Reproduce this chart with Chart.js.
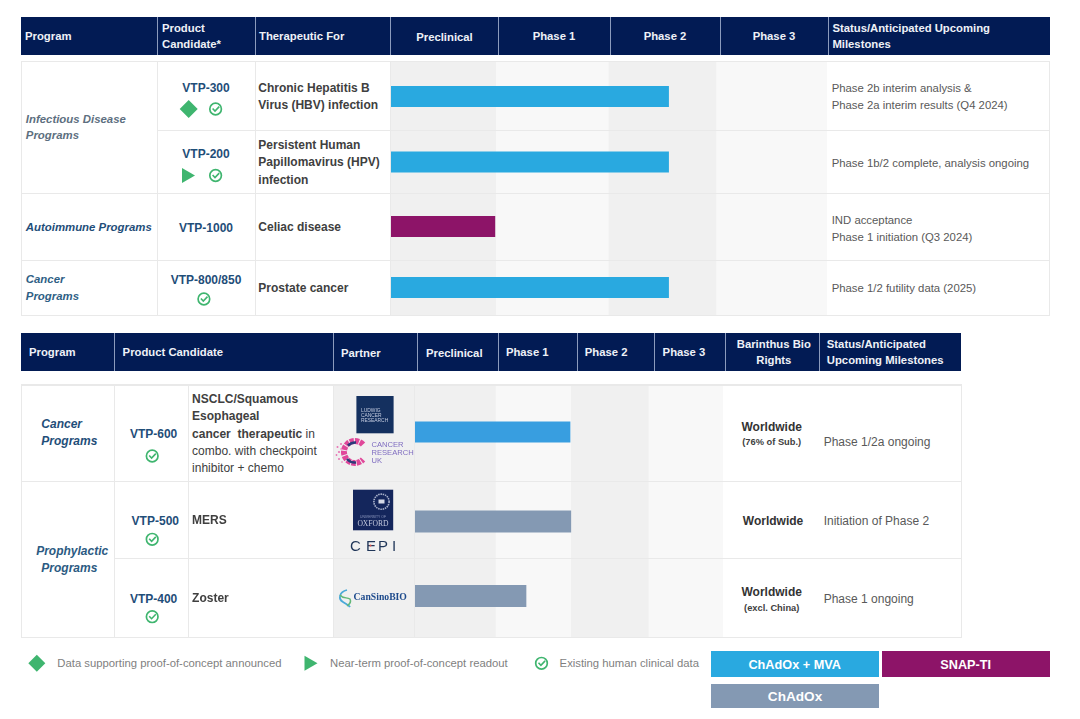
<!DOCTYPE html>
<html lang="en">
<head>
<meta charset="UTF-8">
<title>Pipeline</title>
<script src="https://cdn.jsdelivr.net/npm/chart.js"></script>
<style>
  html, body { margin: 0; background: #fff; }
  #page { position: relative; width: 1080px; height: 719px; overflow: hidden; font-family: "Liberation Sans", Arial, sans-serif; }
  #page div { position: absolute; }
  #page canvas { position: absolute; display: block; }
  .t { transform: translateY(-50%); white-space: nowrap; }
  .c { transform: translate(-50%, -50%); text-align: center; white-space: nowrap; }
  .head { color: #eef1f7; font-weight: bold; font-size: 11.3px; line-height: 16.3px; }
  .prog { font-weight: bold; font-style: italic; font-size: 11.4px; line-height: 16.6px; color: #1f4e79; }
  .cand { font-weight: bold; font-size: 12px; color: #1f4e79; }
  .ther { font-size: 12px; line-height: 17.3px; color: #404040; }
  .stat { font-size: 11.35px; line-height: 16.5px; color: #595959; }
  .key { font-size: 11.3px; color: #7f7f7f; }
  .box { color: #fff; font-weight: bold; font-size: 12.7px; }
</style>
</head>
<body>
<div id="page"></div>

<script>
// values are in phases: 0 = start of preclinical, 4 = end of phase 3
var topCandidates = ['VTP-300', 'VTP-200', 'VTP-1000', 'VTP-800/850'];
var topTherapeutic = ['Chronic Hepatitis B<br>Virus (HBV) infection', 'Persistent Human<br>Papillomavirus (HPV)<br>infection', 'Celiac disease', 'Prostate cancer'];
var topStatus = ['Phase 2b interim analysis &amp;<br>Phase 2a interim results (Q4 2024)', 'Phase 1b/2 complete, analysis ongoing', 'IND acceptance<br>Phase 1 initiation (Q3 2024)', 'Phase 1/2 futility data (2025)'];
var topReach = [2.55, 2.55, 0.96, 2.55];
var topColors = ['#29a9e0', '#29a9e0', '#8d1468', '#29a9e0'];
var topBandEdges = [0, 0.97, 2.0, 2.99, 4];

var bottomCandidates = ['VTP-600', 'VTP-500', 'VTP-400'];
var bottomReach = [2.02, 2.03, 1.45];
var bottomColors = ['#389ee0', '#8499b3', '#8499b3'];
var bottomBandEdges = [0, 1.06, 2.03, 3.04, 4];

var bandColors = ['#f0f0f0', '#f8f8f8', '#f0f0f0', '#f8f8f8'];

var page = document.getElementById('page');
var GREEN = '#3fb56f';
var LINE = '#e9e9e9';

function rect(x, y, w, h, color) {
    var d = document.createElement('div');
    d.style.cssText = 'left:' + x + 'px;top:' + y + 'px;width:' + w + 'px;height:' + h + 'px;background:' + color;
    page.appendChild(d);
    return d;
}

function text(html, x, y, cls, extra) {
    var d = document.createElement('div');
    d.className = cls;
    d.innerHTML = html;
    d.style.cssText = 'left:' + x + 'px;top:' + y + 'px;' + (extra || '');
    page.appendChild(d);
    return d;
}

var bandsPlugin = {
    id: 'bands',
    beforeDatasetsDraw: function(chart, args, opts) {
        var ctx = chart.ctx, sx = chart.scales.x;
        for (var i = 0; i < bandColors.length; i++) {
            var a = sx.getPixelForValue(opts.edges[i]);
            var b = sx.getPixelForValue(opts.edges[i + 1]);
            ctx.fillStyle = bandColors[i];
            ctx.fillRect(a, 0, b - a, chart.height);
        }
    }
};

function rowChart(label, value, color, edges, x, top, w, bottom, thickness, nudge) {
    var canvas = document.createElement('canvas');
    canvas.width = w;
    canvas.height = bottom - top;
    canvas.style.left = x + 'px';
    canvas.style.top = top + 'px';
    page.appendChild(canvas);
    new Chart(canvas.getContext('2d'), {
        type: 'bar',
        data: {
            labels: [label],
            datasets: [{ data: [value], backgroundColor: color, barThickness: thickness, borderWidth: 0 }]
        },
        options: {
            indexAxis: 'y',
            responsive: false,
            animation: false,
            layout: { padding: { top: Math.max(0, nudge * 2), bottom: Math.max(0, -nudge * 2), left: 0, right: 0 } },
            scales: {
                x: { min: 0, max: 4, display: false },
                y: { display: false }
            },
            plugins: { legend: { display: false }, tooltip: { enabled: false }, bands: { edges: edges } }
        },
        plugins: [bandsPlugin]
    });
}

// ---- svg layer for the markers and partner logos
var svg = document.createElementNS('http://www.w3.org/2000/svg', 'svg');

function diamond(x, y, r) {
    return '<polygon fill="' + GREEN + '" points="' + (x - r) + ',' + y + ' ' + x + ',' + (y - r) + ' ' + (x + r) + ',' + y + ' ' + x + ',' + (y + r) + '"/>';
}
function triangle(x, y) {
    return '<polygon fill="' + GREEN + '" points="' + (x - 6.5) + ',' + (y - 7.5) + ' ' + (x + 6.5) + ',' + y + ' ' + (x - 6.5) + ',' + (y + 7.5) + '"/>';
}
function check(x, y) {
    return '<circle cx="' + x + '" cy="' + y + '" r="5.8" fill="none" stroke="' + GREEN + '" stroke-width="1.7"/>' +
        '<path d="M' + (x - 3) + ' ' + (y - 0.5) + 'l2.4 2.5l4.2 -4.4" fill="none" stroke="' + GREEN + '" stroke-width="1.6"/>';
}

// ---- top table
rect(20.5, 17, 1029, 38, '#021b54');
[157, 254.5, 390, 498, 610, 720, 827.5].forEach(function(x) { rect(x, 17, 1, 38, '#8b9bbd'); });

text('Program', 25, 36, 'head t');
text('Product<br>Candidate*', 162, 36, 'head t');
text('Therapeutic For', 259, 36, 'head t');
text('Preclinical', 444.5, 36.7, 'head c');
text('Phase 1', 554, 36, 'head c');
text('Phase 2', 665, 36, 'head c');
text('Phase 3', 774, 36, 'head c');
text('Status/Anticipated Upcoming<br>Milestones', 832.4, 36, 'head t');

var topRows = [62, 131, 193, 260, 315];
topCandidates.forEach(function(name, i) {
    rowChart(name, topReach[i], topColors[i], topBandEdges, 390, topRows[i], 437, topRows[i + 1], 20.5, 0);
});

var topLines = [61, 130, 193, 260, 314.5];
topLines.forEach(function(y, i) {
    var x = (i === 1) ? 157 : 20.5;
    rect(x, y, 1049.5 - x, 1.3, LINE);
});
[20.5, 157, 254.5, 390, 1049].forEach(function(x) { rect(x, 61, 1.2, 255, LINE); });

text('Infectious Disease<br>Programs', 25.8, 127.7, 'prog t', 'color:#5d6f80');
text('Autoimmune Programs', 25.8, 227.3, 'prog t');
text('Cancer<br>Programs', 25.8, 288, 'prog t', 'color:#2f5f85');

var topCandY = [87.8, 153.8, 227.8, 279.8];
var topTherY = [96.5, 163.2, 228.2, 289];
var topStatY = [96.2, 162.7, 228.3, 288];
topCandidates.forEach(function(name, i) {
    text(name, 206, topCandY[i], 'cand c');
    text(topTherapeutic[i], 258.3, topTherY[i], 'ther t', 'font-weight:bold');
    text(topStatus[i], 831.7, topStatY[i], 'stat t');
});

// ---- bottom table
rect(20.5, 332.5, 940.5, 38, '#021b54');
[114.3, 332.6, 417.4, 497.6, 576.5, 654.3, 724.6, 819].forEach(function(x) { rect(x, 332.5, 1, 38, '#8b9bbd'); });

text('Program', 29, 351.7, 'head t');
text('Product Candidate', 122.6, 351.7, 'head t');
text('Partner', 341, 352.7, 'head t');
text('Preclinical', 426, 352.7, 'head t');
text('Phase 1', 505.9, 351.7, 'head t');
text('Phase 2', 584.8, 351.7, 'head t');
text('Phase 3', 662.6, 351.7, 'head t');
text('Barinthus Bio<br>Rights', 773.8, 351.7, 'head c');
text('Status/Anticipated<br>Upcoming Milestones', 826.8, 351.7, 'head t');

rect(333, 385, 81, 253, '#f0f0f0');

var bottomRows = [385, 481, 558, 638];
var bottomNudge = [-1, 2, -2];
bottomCandidates.forEach(function(name, i) {
    rowChart(name, bottomReach[i], bottomColors[i], bottomBandEdges, 414, bottomRows[i], 309.5, bottomRows[i + 1], i === 0 ? 20.5 : 21.5, bottomNudge[i]);
});

[384.3, 480.5, 558, 637].forEach(function(y, i) {
    var x = (i === 2) ? 114.3 : 20.5;
    rect(x, y, 961 - x, 1.3, LINE);
});
[20.5, 114.3, 188, 333, 414, 960.5].forEach(function(x) { rect(x, 384.3, 1.2, 254, LINE); });

text('Cancer<br>Programs', 41.3, 432.8, 'prog t', 'font-size:12px;line-height:17px');
text('Prophylactic', 36.2, 551, 'prog t', 'font-size:12px;color:#2b5a82');
text('Programs', 41.3, 568.3, 'prog t', 'font-size:12px;color:#2b5a82');

text('VTP-600', 153.6, 433.8, 'cand c');
text('VTP-500', 155.3, 520.8, 'cand c');
text('VTP-400', 153.6, 598.8, 'cand c');

text('<b>NSCLC/Squamous<br>Esophageal<br>cancer&nbsp; therapeutic</b> in<br>combo. with checkpoint<br>inhibitor + chemo', 192.1, 434, 'ther t');
text('<b>MERS</b>', 192.1, 521, 'ther t');
text('<b>Zoster</b>', 192.1, 599.2, 'ther t');

text('Worldwide', 771.7, 426.5, 'cand c', 'color:#333');
text('(76% of Sub.)', 771.7, 441.7, 'cand c', 'color:#404040;font-size:9.3px');
text('Worldwide', 773, 520.8, 'cand c', 'color:#333');
text('Worldwide', 771.7, 591.8, 'cand c', 'color:#333');
text('(excl. China)', 771.7, 607.7, 'cand c', 'color:#404040;font-size:9.3px');

text('Phase 1/2a ongoing', 823.7, 442.3, 'stat t', 'font-size:12px');
text('Initiation of Phase 2', 823.7, 520.7, 'stat t', 'font-size:12px');
text('Phase 1 ongoing', 823.7, 599, 'stat t', 'font-size:12px');

// ---- legend
text('Data supporting proof-of-concept announced', 57.3, 663.3, 'key t');
text('Near-term proof-of-concept readout', 330, 663.3, 'key t');
text('Existing human clinical data', 559.6, 663.3, 'key t');

rect(711, 651, 167.5, 26.3, '#29a9e0');
rect(882, 651, 167.5, 26.3, '#8d1468');
rect(711, 683.7, 168, 24, '#8499b3');
text('ChAdOx + MVA', 794.7, 664.5, 'box c');
text('SNAP-TI', 965.7, 664.5, 'box c');
text('ChAdOx', 795, 695.7, 'box c', 'font-size:13.6px');

// ---- markers and logos
svg.setAttribute('width', 1080);
svg.setAttribute('height', 719);
svg.style.cssText = 'position:absolute;left:0;top:0';
svg.innerHTML =
    diamond(188.7, 109, 9) + check(215.6, 109) +
    triangle(188.5, 175.5) + check(215.6, 175.5) +
    check(203.9, 299) +
    check(152.2, 456) + check(152.2, 539.3) + check(152.2, 616.7) +
    diamond(36.8, 663.3, 8.5) + triangle(311, 663.3) + check(541.5, 663.3) +
    // Ludwig Cancer Research
    '<rect x="356.4" y="396" width="37.2" height="37.3" fill="#14305f"/>' +
    '<g fill="#c4cce0" font-size="4.9" font-family="Liberation Sans">' +
    '<text x="361" y="412">LUDWIG</text><text x="361" y="417">CANCER</text><text x="361" y="421.8">RESEARCH</text></g>' +
    // Cancer Research UK
    '<path d="M363 444.5a11 11 0 1 0 0 15" fill="none" stroke="#e0489a" stroke-width="6" stroke-dasharray="4 1"/>' +
    '<path d="M356 442.5a10.5 10.5 0 0 0 -8 3" fill="none" stroke="#2b3a7a" stroke-width="2.6"/>' +
    '<path d="M347 459a10.5 10.5 0 0 0 9 3.5" fill="none" stroke="#2b3a7a" stroke-width="2.6"/>' +
    '<g fill="#e875b5"><circle cx="337.5" cy="447" r="1"/><circle cx="339" cy="452" r="1.1"/><circle cx="336.5" cy="455" r="0.9"/><circle cx="339" cy="459" r="1"/><circle cx="341" cy="444" r="1"/><circle cx="341" cy="449" r="0.8"/><circle cx="342" cy="462" r="0.8"/></g>' +
    '<g fill="#7f6cc0" font-size="7.6" font-family="Liberation Sans">' +
    '<text x="371.5" y="447">CANCER</text><text x="371.5" y="454.5">RESEARCH</text><text x="371.5" y="462.5">UK</text></g>' +
    // Oxford
    '<rect x="353" y="489.7" width="40.2" height="40.6" fill="#14265c"/>' +
    '<circle cx="381.5" cy="501.7" r="7.6" fill="none" stroke="#aab3cc" stroke-width="1.6" stroke-dasharray="1.5 0.8"/>' +
    '<rect x="378.5" y="499.5" width="6" height="4" fill="#d5d9e6"/>' +
    '<text x="373" y="518" text-anchor="middle" fill="#8f9ac0" font-size="3.4" font-family="Liberation Sans">UNIVERSITY OF</text>' +
    '<text x="373" y="526" text-anchor="middle" fill="#c3c9dd" font-size="7.6" font-family="Liberation Serif">OXFORD</text>' +
    // CEPI
    '<text x="350 366 378 392" y="550.5" fill="#1f3558" font-size="15" font-family="Liberation Sans">CEPI</text>' +
    '<circle cx="370.5" cy="545.5" r="1" fill="#e0564a"/>' +
    // CanSinoBIO
    '<path d="M347 590c-8 2 -9 9 -4 12c3 2 6 3 7 5" fill="none" stroke="#4aa9d8" stroke-width="1.8"/>' +
    '<path d="M340 595c3 4 7 2 10 4c1 2 0 5 -3 7" fill="none" stroke="#62b878" stroke-width="1.5"/>' +
    '<text x="353.6" y="600.3" fill="#1d4a8c" font-size="9.7" font-weight="bold" font-family="Liberation Serif">CanSinoBIO</text>';
page.appendChild(svg);
</script>
</body>
</html>
